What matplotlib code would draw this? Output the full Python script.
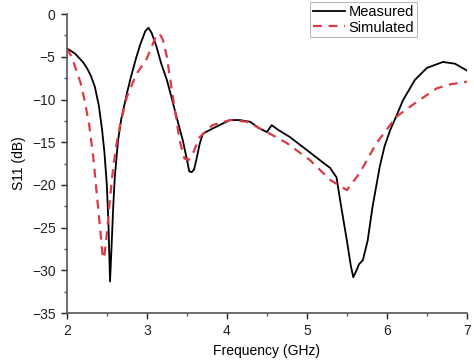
import matplotlib
matplotlib.use("Agg")
import matplotlib.pyplot as plt
from matplotlib.ticker import MultipleLocator

plt.rcParams['font.family'] = ['Liberation Sans', 'DejaVu Sans']

# measured S11 (GHz, dB)
freq_meas = [2.0, 2.1, 2.2, 2.25, 2.3, 2.35, 2.4, 2.44, 2.47, 2.5, 2.52, 2.54, 2.56, 2.58,
             2.6, 2.64, 2.68, 2.75, 2.8, 2.87, 2.92, 2.98, 3.02, 3.06, 3.12, 3.18,
             3.25, 3.31, 3.37, 3.45, 3.5, 3.53, 3.56, 3.59, 3.62, 3.66, 3.7, 3.76,
             3.82, 3.95, 4.04, 4.16, 4.29, 4.41, 4.5, 4.56, 4.65, 4.79, 4.9, 5.04,
             5.15, 5.29, 5.37, 5.43, 5.5, 5.55, 5.58, 5.62, 5.65, 5.7, 5.76, 5.82,
             5.91, 5.97, 6.04, 6.12, 6.2, 6.35, 6.5, 6.7, 6.85, 7.0]
s11_meas = [-4.0, -4.6, -5.6, -6.3, -7.2, -8.5, -10.7, -13.5, -16.2, -20.0, -24.5, -31.3, -27.0, -22.5,
            -19.0, -14.8, -12.3, -9.3, -7.4, -5.0, -3.5, -2.0, -1.6, -2.2, -3.8, -5.8,
            -7.7, -9.8, -12.0, -14.8, -17.0, -18.4, -18.5, -18.2, -17.0, -15.2, -14.0, -13.7,
            -13.4, -12.8, -12.4, -12.4, -12.6, -13.4, -13.8, -13.0, -13.6, -14.4, -15.2, -16.2,
            -17.0, -18.0, -19.1, -22.6, -26.5, -29.5, -30.8, -30.0, -29.3, -28.8, -26.5, -22.6,
            -17.9, -15.5, -13.6, -11.9, -10.1, -7.7, -6.3, -5.6, -5.8, -6.6]

# simulated S11
freq_sim = [2.0, 2.06, 2.12, 2.17, 2.22, 2.28, 2.33, 2.39, 2.42, 2.45, 2.47, 2.5, 2.54, 2.58,
            2.62, 2.66, 2.75, 2.87, 3.0, 3.1, 3.13, 3.16, 3.2, 3.25, 3.33, 3.41,
            3.47, 3.52, 3.58, 3.66, 3.82, 4.04, 4.25, 4.5, 4.75, 5.04, 5.29, 5.5,
            5.66, 5.87, 6.12, 6.37, 6.62, 6.8, 6.95, 7.0]
s11_sim = [-4.0, -5.0, -6.6, -8.0, -10.0, -13.0, -16.7, -22.6, -25.5, -28.6, -28.2, -25.7, -21.5, -17.9,
           -15.3, -13.2, -9.7, -7.0, -5.2, -2.9, -2.4, -2.3, -3.0, -5.0, -10.0, -14.8,
           -16.9, -17.1, -16.2, -14.4, -13.0, -12.4, -12.6, -13.8, -15.1, -17.1, -19.4, -20.6,
           -18.6, -15.1, -12.0, -10.3, -8.7, -8.2, -8.0, -7.9]

fig = plt.figure(figsize=(4.74, 3.62), dpi=100)
ax = fig.add_axes([0.141, 0.135, 0.844, 0.826])

ax.plot(freq_meas, s11_meas, color='black', lw=1.3, label='Measured')
ax.plot(freq_sim, s11_sim, color='#dc3a46', lw=1.6, ls=(0, (4, 3)), label='Simulated')

ax.set_xlim(2, 7)
ax.set_ylim(-35, 0)
ax.xaxis.set_major_locator(MultipleLocator(1))
ax.xaxis.set_minor_locator(MultipleLocator(0.5))
ax.yaxis.set_major_locator(MultipleLocator(5))
ax.yaxis.set_minor_locator(MultipleLocator(2.5))
ax.tick_params(which='major', length=4, width=1, labelsize=10, colors='#222222', pad=4)
ax.tick_params(which='minor', length=2.5, width=1, colors='#555555')
for s in ['top', 'right']:
    ax.spines[s].set_visible(False)
for s in ['left', 'bottom']:
    ax.spines[s].set_color('#555555')
    ax.spines[s].set_linewidth(1.2)

ax.set_xlabel('Frequency (GHz)', fontsize=10)
ax.set_ylabel('S11 (dB)', fontsize=10)

leg = ax.legend(loc='upper right', bbox_to_anchor=(0.875, 1.04), fontsize=10.5,
                frameon=True, fancybox=False, handlelength=2.2, handletextpad=0.2,
                borderpad=0.2, labelspacing=0.1, borderaxespad=0)
leg.get_frame().set_edgecolor('#aaaaaa')
leg.get_frame().set_linewidth(0.8)

fig.savefig('out.png', dpi=100)
